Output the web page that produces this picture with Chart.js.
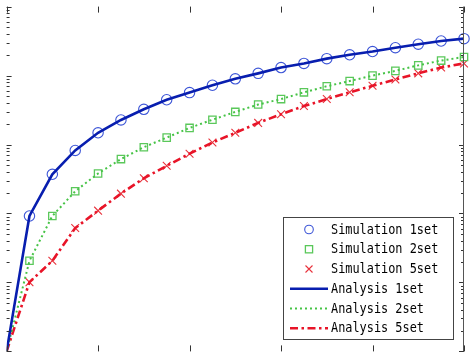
<!DOCTYPE html>
<html>
<head>
<meta charset="utf-8">
<script src="https://cdn.jsdelivr.net/npm/chart.js@4"></script>
<style>
  html, body { margin: 0; padding: 0; background: #fff; }
  #wrap { width: 474px; height: 358px; }
</style>
</head>
<body>
<div id="wrap"><canvas id="c" width="474" height="358"></canvas></div>
<script>
// ---- data ----
const xValues = [0,1,2,3,4,5,6,7,8,9,10,11,12,13,14,15,16,17,18,19,20];
const xTicks = [0,4,8,12,16,20];
const yMin = 1e-5;
const yMax = 1;

const simulation1 = [null,9.2e-4,3.7e-3,8.2e-3,0.0148,0.0227,0.0324,0.0446,0.0566,0.0723,0.0897,0.1076,0.1306,0.150,0.176,0.200,0.223,0.2535,0.285,0.317,0.343];
const simulation2 = [null,2.06e-4,9.2e-4,2.10e-3,3.80e-3,6.15e-3,9.14e-3,0.0126,0.0174,0.0229,0.0297,0.0380,0.0456,0.0571,0.0700,0.0832,0.0998,0.117,0.1406,0.165,0.186];
const simulation5 = [null,1.01e-4,2.06e-4,6.14e-4,1.10e-3,1.94e-3,3.24e-3,4.91e-3,7.36e-3,0.0107,0.0148,0.0206,0.0275,0.0361,0.0456,0.0571,0.0710,0.0877,0.1076,0.1306,0.150];

const analysis1 = [1e-5,9.2e-4,3.7e-3,8.2e-3,0.0148,0.0227,0.0324,0.0446,0.0566,0.0723,0.0897,0.1076,0.1306,0.150,0.176,0.200,0.223,0.2535,0.285,0.317,0.343];
const analysis2 = [1e-5,2.06e-4,9.2e-4,2.10e-3,3.80e-3,6.15e-3,9.14e-3,0.0126,0.0174,0.0229,0.0297,0.0380,0.0456,0.0571,0.0700,0.0832,0.0998,0.117,0.1406,0.165,0.186];
const analysis5 = [1e-5,1.01e-4,2.06e-4,6.14e-4,1.10e-3,1.94e-3,3.24e-3,4.91e-3,7.36e-3,0.0107,0.0148,0.0206,0.0275,0.0361,0.0456,0.0571,0.0710,0.0877,0.1076,0.1306,0.150];

const seriesLabels = ['Simulation 1set','Simulation 2set','Simulation 5set','Analysis 1set','Analysis 2set','Analysis 5set'];

// ---- styles ----
const BLUE_LINE = 'rgb(8,30,175)';
const BLUE_MK = 'rgb(60,85,215)';
const GREEN_LINE = 'rgb(70,195,70)';
const GREEN_MK = 'rgb(90,200,90)';
const RED_LINE = 'rgb(232,20,40)';
const RED_MK = 'rgb(232,50,60)';

function pts(arr) { return arr.map((v, i) => ({x: xValues[i], y: v})); }

const datasets = [
  {label: seriesLabels[3], data: pts(analysis1), borderColor: BLUE_LINE, borderWidth: 2.6, pointRadius: 0, showLine: true, legendKind: 'line', dash: []},
  {label: seriesLabels[4], data: pts(analysis2), borderColor: GREEN_LINE, borderWidth: 2, borderDash: [2,3], pointRadius: 0, showLine: true, legendKind: 'line', dash: [2,3]},
  {label: seriesLabels[5], data: pts(analysis5), borderColor: RED_LINE, borderWidth: 2.6, borderDash: [8,3.5,2.5,3.5], pointRadius: 0, showLine: true, legendKind: 'line', dash: [8,3.5,2.5,3.5]},
  {label: seriesLabels[0], data: pts(simulation1), borderColor: BLUE_MK, backgroundColor: 'rgba(0,0,0,0)', pointStyle: 'circle', pointRadius: 5.2, pointBorderWidth: 1.1, showLine: false, clip: false, legendKind: 'circle'},
  {label: seriesLabels[1], data: pts(simulation2), borderColor: GREEN_MK, backgroundColor: 'rgba(0,0,0,0)', pointStyle: 'rect', pointRadius: 5.2, pointBorderWidth: 1.3, showLine: false, clip: false, legendKind: 'rect'},
  {label: seriesLabels[2], data: pts(simulation5), borderColor: RED_MK, backgroundColor: 'rgba(0,0,0,0)', pointStyle: 'crossRot', pointRadius: 5.5, pointBorderWidth: 1.1, showLine: false, clip: false, legendKind: 'cross'}
];

// ---- inner ticks + right border (MATLAB-like) ----
const axisTicks = {
  id: 'axisTicks',
  afterDatasetsDraw(chart) {
    const {ctx, chartArea: a, scales: {x, y}} = chart;
    ctx.save();
    ctx.strokeStyle = '#333';
    ctx.lineWidth = 1;
    ctx.beginPath();
    for (let e = -5; e <= 0; e++) {
      for (let m = 1; m <= 9; m++) {
        const v = m * Math.pow(10, e);
        if (v > yMax * 1.0001) continue;
        const py = Math.round(y.getPixelForValue(v)) + 0.5;
        const len = m === 1 ? 5 : 3;
        ctx.moveTo(a.left, py); ctx.lineTo(a.left + len, py);
        ctx.moveTo(a.right, py); ctx.lineTo(a.right - len, py);
      }
    }
    xTicks.forEach(v => {
      const px = Math.round(x.getPixelForValue(v)) + 0.5;
      ctx.moveTo(px, a.bottom); ctx.lineTo(px, a.bottom - 6);
      ctx.moveTo(px, a.top); ctx.lineTo(px, a.top + 6);
    });
    ctx.stroke();
    ctx.strokeStyle = '#555';
    ctx.beginPath();
    const rx = Math.round(a.right) - 0.5;
    ctx.moveTo(rx, a.top); ctx.lineTo(rx, a.bottom);
    ctx.stroke();
    ctx.restore();
  }
};

// ---- legend box in the lower right ----
const legendOrder = [3,4,5,0,1,2];
const boxLegend = {
  id: 'boxLegend',
  afterDraw(chart) {
    const ctx = chart.ctx;
    const bx = 283.5, by = 217.5, bw = 170, bh = 122;
    ctx.save();
    ctx.fillStyle = '#fff';
    ctx.fillRect(bx, by, bw, bh);
    ctx.strokeStyle = '#444';
    ctx.lineWidth = 1;
    ctx.strokeRect(bx, by, bw, bh);
    legendOrder.forEach((di, row) => {
      const ds = chart.data.datasets[di];
      const cy = 229.5 + row * 19.75;
      const mx = 309;
      ctx.save();
      ctx.strokeStyle = ds.borderColor;
      if (ds.legendKind === 'line') {
        ctx.lineWidth = ds.borderWidth;
        ctx.setLineDash(ds.dash);
        ctx.beginPath();
        ctx.moveTo(290, cy); ctx.lineTo(328, cy);
        ctx.stroke();
      } else if (ds.legendKind === 'circle') {
        ctx.lineWidth = 1.1;
        ctx.beginPath(); ctx.arc(mx, cy, 4.3, 0, Math.PI * 2); ctx.stroke();
      } else if (ds.legendKind === 'rect') {
        ctx.lineWidth = 1.3;
        ctx.strokeRect(mx - 3.6, cy - 3.6, 7.2, 7.2);
      } else {
        ctx.lineWidth = 1.1;
        ctx.beginPath();
        ctx.moveTo(mx - 3.5, cy - 3.5); ctx.lineTo(mx + 3.5, cy + 3.5);
        ctx.moveTo(mx + 3.5, cy - 3.5); ctx.lineTo(mx - 3.5, cy + 3.5);
        ctx.stroke();
      }
      ctx.restore();
      ctx.save();
      ctx.fillStyle = '#000';
      ctx.font = '12px "DejaVu Sans Mono"';
      ctx.textBaseline = 'middle';
      ctx.translate(331, cy + 0.5);
      ctx.scale(0.99, 1.17);
      ctx.fillText(ds.label, 0, 0);
      ctx.restore();
    });
    ctx.restore();
  }
};

new Chart(document.getElementById('c'), {
  type: 'scatter',
  data: {datasets},
  options: {
    responsive: false,
    animation: false,
    devicePixelRatio: 1,
    layout: {padding: {left: 0, right: 10, top: 0, bottom: 0}},
    plugins: {legend: {display: false}, tooltip: {enabled: false}},
    elements: {line: {tension: 0, fill: false}},
    scales: {
      x: {type: 'linear', min: 0, max: 20, display: false},
      y: {type: 'logarithmic', min: yMin, max: yMax, display: false}
    }
  },
  plugins: [axisTicks, boxLegend]
});
</script>
</body>
</html>
